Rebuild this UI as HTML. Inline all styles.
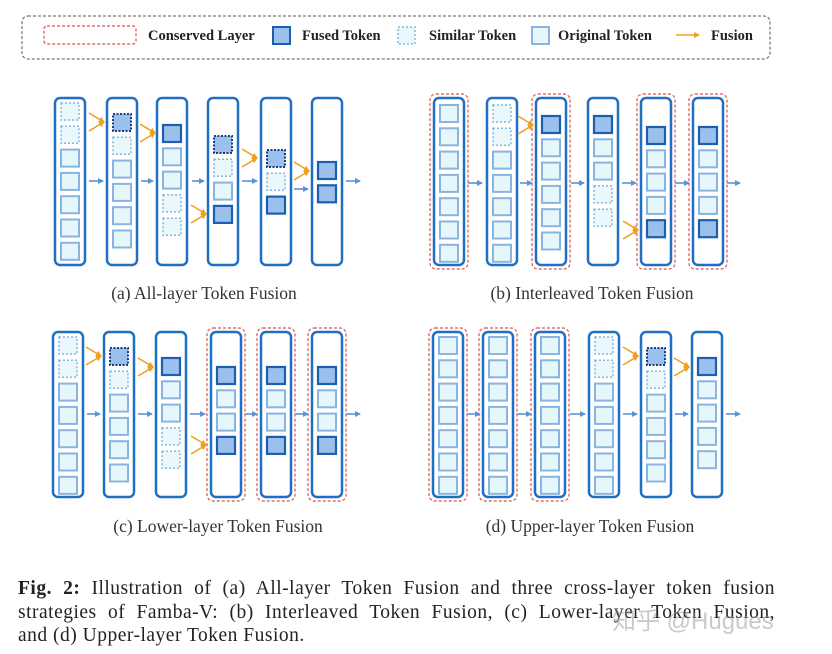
<!DOCTYPE html>
<html><head><meta charset="utf-8"><style>
html,body{margin:0;padding:0;background:#fff;}
body{width:832px;height:654px;position:relative;overflow:hidden;}
svg{position:absolute;left:0;top:0;}
.cap{position:absolute;left:18px;width:757px;font-family:"Liberation Serif",serif;font-size:19.5px;letter-spacing:0.5px;color:#222;line-height:23.5px;top:577px;}
.cap div{text-align:justify;text-align-last:justify;white-space:nowrap;}
.cap div.l{text-align-last:left;}
.wm{position:absolute;left:612px;top:601px;font-family:"Liberation Sans","Noto Sans CJK SC",sans-serif;font-size:24px;color:rgba(150,150,150,0.5);}
</style></head><body>
<svg id="s" width="832" height="654" xmlns="http://www.w3.org/2000/svg">
<defs>
<marker id="bl" markerWidth="6" markerHeight="6" refX="5" refY="3" orient="auto" markerUnits="userSpaceOnUse"><path d="M0,0 L6,3 L0,6 z" fill="#5b93d6"/></marker>
<marker id="or" markerWidth="6" markerHeight="6" refX="5" refY="3" orient="auto" markerUnits="userSpaceOnUse"><path d="M0,0 L6,3 L0,6 z" fill="#f0a020"/></marker>
</defs>
<rect x="22" y="16" width="748" height="43" rx="6" fill="none" stroke="#555" stroke-width="1" stroke-dasharray="3,2"/>
<rect x="44" y="26" width="92" height="18" rx="3" fill="none" stroke="#d9534f" stroke-width="1.2" stroke-dasharray="3,2"/>
<text x="148" y="40" font-family="Liberation Serif" font-weight="bold" font-size="14.5" fill="#222">Conserved Layer</text>
<rect x="273" y="27" width="17" height="17" fill="#9cc0ec" stroke="#1c5fb0" stroke-width="2"/>
<text x="302" y="40" font-family="Liberation Serif" font-weight="bold" font-size="14.5" fill="#222">Fused Token</text>
<rect x="398" y="27" width="17" height="17" fill="#eaf7fb" stroke="#7fb8e4" stroke-width="1.5" stroke-dasharray="2,2"/>
<text x="429" y="40" font-family="Liberation Serif" font-weight="bold" font-size="14.5" fill="#222">Similar Token</text>
<rect x="532" y="27" width="17" height="17" fill="#e6f7fb" stroke="#8ab4e0" stroke-width="2"/>
<text x="558" y="40" font-family="Liberation Serif" font-weight="bold" font-size="14.5" fill="#222">Original Token</text>
<line x1="676" y1="35" x2="699" y2="35" stroke="#f0a020" stroke-width="1.6" marker-end="url(#or)"/>
<text x="711" y="40" font-family="Liberation Serif" font-weight="bold" font-size="14.5" fill="#222">Fusion</text>
<g id="g"></g>
<g font-family="Liberation Serif" font-size="17.5" fill="#333" text-anchor="middle">
<text x="204" y="299">(a) All-layer Token Fusion</text>
<text x="592" y="299">(b) Interleaved Token Fusion</text>
<text x="218" y="532">(c) Lower-layer Token Fusion</text>
<text x="590" y="532">(d) Upper-layer Token Fusion</text>
</g>
</svg>
<div class="cap"><div><b>Fig. 2:</b> Illustration of (a) All-layer Token Fusion and three cross-layer token fusion</div><div>strategies of Famba-V: (b) Interleaved Token Fusion, (c) Lower-layer Token Fusion,</div><div class="l">and (d) Upper-layer Token Fusion.</div></div>
<div class="wm">知乎 @Hugues</div>
<script>
var g=document.getElementById('g'),h='';
function col(x,y0,y1,cons,start,toks){
 if(cons)h+='<rect x="'+(x-4)+'" y="'+(y0-4)+'" width="38" height="'+(y1-y0+8)+'" rx="6" fill="none" stroke="#d9534f" stroke-width="1.2" stroke-dasharray="3,2"/>';
 h+='<rect x="'+x+'" y="'+y0+'" width="30" height="'+(y1-y0)+'" rx="5" fill="#fff" stroke="#1f6fc5" stroke-width="2.5"/>';
 for(var i=0;i<toks.length;i++){var t=toks[i],ty=start+i*23.3,tx=x+6;
  if(t=='o')h+='<rect x="'+tx+'" y="'+ty+'" width="18" height="17" fill="#e6f7fb" stroke="#8ab4e0" stroke-width="2"/>';
  else if(t=='f')h+='<rect x="'+tx+'" y="'+ty+'" width="18" height="17" fill="#9cc0ec" stroke="#1c5fb0" stroke-width="2.2"/>';
  else if(t=='d')h+='<rect x="'+tx+'" y="'+ty+'" width="18" height="17" fill="#9cc0ec" stroke="#1a3f80" stroke-width="2" stroke-dasharray="2,1.5"/>';
  else h+='<rect x="'+tx+'" y="'+ty+'" width="18" height="17" fill="#eaf7fb" stroke="#7fb8e4" stroke-width="1.5" stroke-dasharray="2,2"/>';
 }}
function ba(x1,x2,y){h+='<line x1="'+x1+'" y1="'+y+'" x2="'+x2+'" y2="'+y+'" stroke="#5b93d6" stroke-width="1.6" marker-end="url(#bl)"/>';}
function oa(x,y){h+='<line x1="'+(x-15)+'" y1="'+(y-9)+'" x2="'+x+'" y2="'+y+'" stroke="#f0a020" stroke-width="1.6" marker-end="url(#or)"/>'+
 '<line x1="'+(x-15)+'" y1="'+(y+9)+'" x2="'+x+'" y2="'+y+'" stroke="#f0a020" stroke-width="1.6" marker-end="url(#or)"/>';}
var ay0=98,ay1=265;
col(55,ay0,ay1,0,103,'ssooooo');col(107,ay0,ay1,0,114,'dsoooo');col(157,ay0,ay1,0,125,'fooss');
col(208,ay0,ay1,0,136,'dsof');col(261,ay0,ay1,0,150,'dsf');col(312,ay0,ay1,0,162,'ff');
ba(89,103,181);ba(141,153,181);ba(192,204,181);ba(242,257,181);ba(294,308,189);ba(346,360,181);
oa(104,122);oa(155,133);oa(206,214);oa(257,158);oa(309,171);
col(434,ay0,ay1,1,105,'ooooooo');col(487,ay0,ay1,0,105,'ssooooo');col(536,ay0,ay1,1,116,'fooooo');
col(588,ay0,ay1,0,116,'fooss');col(641,ay0,ay1,1,127,'fooof');col(693,ay0,ay1,1,127,'fooof');
ba(468,482,183);ba(520,532,183);ba(571,584,183);ba(622,636,183);ba(675,689,183);ba(727,740,183);
oa(533,125);oa(638,230);
var cy0=332,cy1=497;
col(53,cy0,cy1,0,337,'ssooooo');col(104,cy0,cy1,0,348,'dsoooo');col(156,cy0,cy1,0,358,'fooss');
col(211,cy0,cy1,1,367,'foof');col(261,cy0,cy1,1,367,'foof');col(312,cy0,cy1,1,367,'foof');
ba(87,100,414);ba(138,152,414);ba(190,205,414);ba(245,257,414);ba(295,308,414);ba(346,360,414);
oa(101,356);oa(153,367);oa(206,445);
col(433,cy0,cy1,1,337,'ooooooo');col(483,cy0,cy1,1,337,'ooooooo');col(535,cy0,cy1,1,337,'ooooooo');
col(589,cy0,cy1,0,337,'ssooooo');col(641,cy0,cy1,0,348,'dsoooo');col(692,cy0,cy1,0,358,'foooo');
ba(467,480,414);ba(517,531,414);ba(570,585,414);ba(623,637,414);ba(675,688,414);ba(726,740,414);
oa(638,356);oa(689,367);
g.innerHTML=h;
</script>
</body></html>
